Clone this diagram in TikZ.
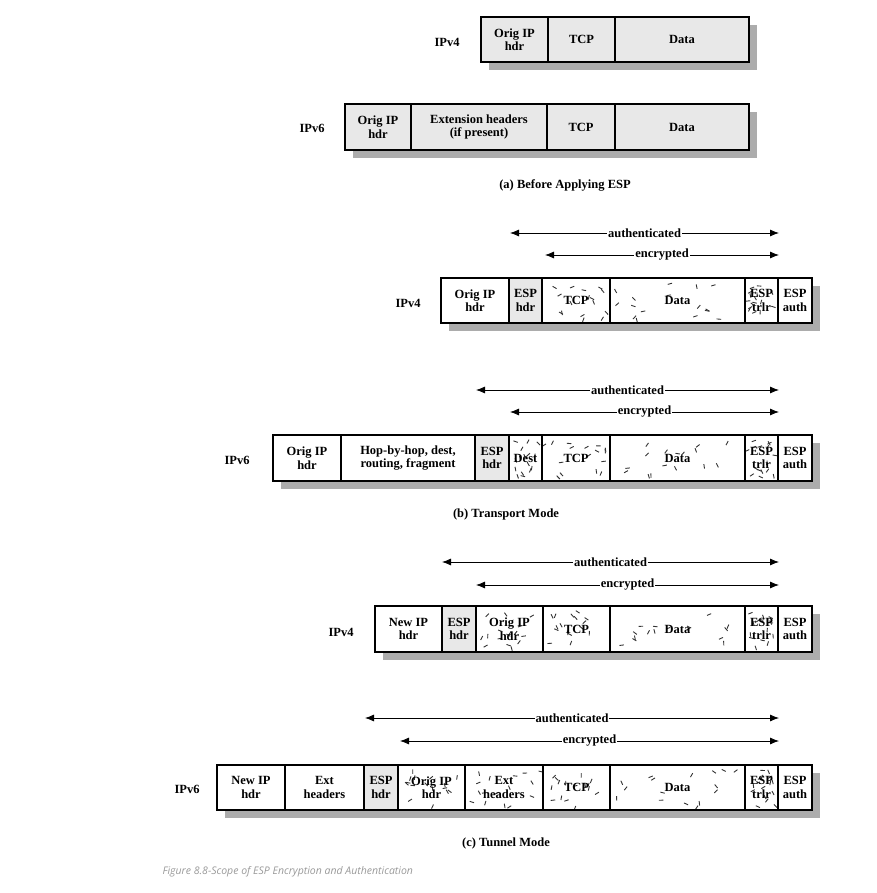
\documentclass[tikz,border=0pt]{standalone}
\usepackage{fontspec}
\setmainfont{Liberation Serif}
\newfontfamily\capfont{Open Sans}
\usetikzlibrary{arrows.meta}
\tikzset{
  cellg/.style={draw=black,line width=1.8pt,fill=gray!18,inner sep=0pt,align=center,font=\bfseries\fontsize{12.5}{13.5}\selectfont},
  cellw/.style={cellg,fill=white},
  celle/.style={cellg,fill=none},
  lbl/.style={font=\bfseries\fontsize{12.5}{14}\selectfont},
  shadow/.style={fill=gray!65,draw=none},
  tick/.style={line width=0.9pt,black!80},
  span/.style={{Latex[length=9pt,width=7pt]}-{Latex[length=9pt,width=7pt]},line width=0.8pt},
  spanlbl/.style={fill=white,inner sep=1pt,font=\bfseries\fontsize{12.5}{14}\selectfont}
}
% \pkt{name}{ytop}{ybot}{cells}
\newcommand{\mypkt}[4]{%
  \foreach \a/\b/\t/\l [count=\i] in {#4}{%
    \ifnum\i=1 \xdef\pxa{\a}\fi \xdef\pxb{\b}}%
  \fill[shadow] (\pxa+8,#2+8) rectangle (\pxb+8,#3+8);
  \fill[white] (\pxa,#2) rectangle (\pxb,#3);
  \foreach \a/\b/\t/\l [count=\i] in {#4}{%
    \pgfmathsetmacro\w{\b-\a}\pgfmathsetmacro\h{#3-#2}%
    \if e\t
      \foreach \k in {1,...,16}{%
        \pgfmathsetmacro\tx{\a+4+rnd*(\w-8)}%
        \pgfmathsetmacro\ty{#2+4+rnd*(\h-8)}%
        \pgfmathsetmacro\ang{rnd*180}%
        \draw[tick] (\tx,\ty) -- ++(\ang:4.5);}%
    \fi
    \node[cell\t,minimum width=\w pt,minimum height=\h pt] (#1-\i) at ({(\a+\b)/2},{(#2+#3)/2}) {\l};
  }}
\begin{document}
\begin{tikzpicture}[x=1pt,y=-1pt]
\pgfmathsetseed{7}
\useasboundingbox (0,0) rectangle (876,893);
% (a)
\node[lbl] (la4) at (447,42) {IPv4};
\mypkt{a4}{17}{62}{481/548/g/{Orig IP\\hdr},548/615/g/TCP,615/749/g/Data}
\node[lbl] (la6) at (312,128) {IPv6};
\mypkt{a6}{104}{150}{345/411/g/{Orig IP\\hdr},411/547/g/{Extension headers\\(if present)},547/615/g/TCP,615/749/g/Data}
\node[lbl] (capa) at (565,185) {(a) Before Applying ESP};
% (b) IPv4
\coordinate (b4aL) at (510,233); \coordinate (b4aR) at (779,233);
\coordinate (b4eL) at (545,255); \coordinate (b4eR) at (779,255);
\draw[span] (b4aL) -- node[spanlbl] (b4at) {authenticated} (b4aR);
\draw[span] (b4eL) -- node[spanlbl] (b4et) {encrypted} (b4eR);
\node[lbl] (lb4) at (408,303) {IPv4};
\mypkt{b4}{278}{323}{441/509/w/{Orig IP\\hdr},509/542/g/{ESP\\hdr},542/610/e/TCP,610/745/e/Data,745/778/e/{ESP\\trlr},778/812/w/{ESP\\auth}}
% (b) IPv6
\coordinate (b6aL) at (476,390); \coordinate (b6aR) at (779,390);
\coordinate (b6eL) at (510,412); \coordinate (b6eR) at (779,412);
\draw[span] (b6aL) -- node[spanlbl] (b6at) {authenticated} (b6aR);
\draw[span] (b6eL) -- node[spanlbl] (b6et) {encrypted} (b6eR);
\node[lbl] (lb6) at (237,460) {IPv6};
\mypkt{b6}{435}{481}{273/341/w/{Orig IP\\hdr},341/475/w/{Hop-by-hop, dest,\\routing, fragment},475/509/g/{ESP\\hdr},509/542/e/Dest,542/610/e/TCP,610/745/e/Data,745/778/e/{ESP\\trlr},778/812/w/{ESP\\auth}}
\node[lbl] (capb) at (506,514) {(b) Transport Mode};
% (c) IPv4
\coordinate (c4aL) at (442,562); \coordinate (c4aR) at (779,562);
\coordinate (c4eL) at (476,585); \coordinate (c4eR) at (779,585);
\draw[span] (c4aL) -- node[spanlbl] (c4at) {authenticated} (c4aR);
\draw[span] (c4eL) -- node[spanlbl] (c4et) {encrypted} (c4eR);
\node[lbl] (lc4) at (341,632) {IPv4};
\mypkt{c4}{606}{652}{375/442/w/{New IP\\hdr},442/476/g/{ESP\\hdr},476/543/e/{Orig IP\\hdr},543/610/e/TCP,610/745/e/Data,745/778/e/{ESP\\trlr},778/812/w/{ESP\\auth}}
% (c) IPv6
\coordinate (c6aL) at (365,718); \coordinate (c6aR) at (779,718);
\coordinate (c6eL) at (400,741); \coordinate (c6eR) at (779,741);
\draw[span] (c6aL) -- node[spanlbl] (c6at) {authenticated} (c6aR);
\draw[span] (c6eL) -- node[spanlbl] (c6et) {encrypted} (c6eR);
\node[lbl] (lc6) at (187,789) {IPv6};
\mypkt{c6}{765}{810}{217/285/w/{New IP\\hdr},285/364/w/{Ext\\headers},364/398/g/{ESP\\hdr},398/465/e/{Orig IP\\hdr},465/543/e/{Ext\\headers},543/610/e/TCP,610/745/e/Data,745/778/e/{ESP\\trlr},778/812/w/{ESP\\auth}}
\node[lbl] (capc) at (506,843) {(c) Tunnel Mode};
\node[anchor=west,font=\capfont\itshape\fontsize{10.5}{12}\selectfont,text=gray!80] (fig) at (159,872) {Figure 8.8-Scope of ESP Encryption and Authentication};
\end{tikzpicture}
\end{document}
